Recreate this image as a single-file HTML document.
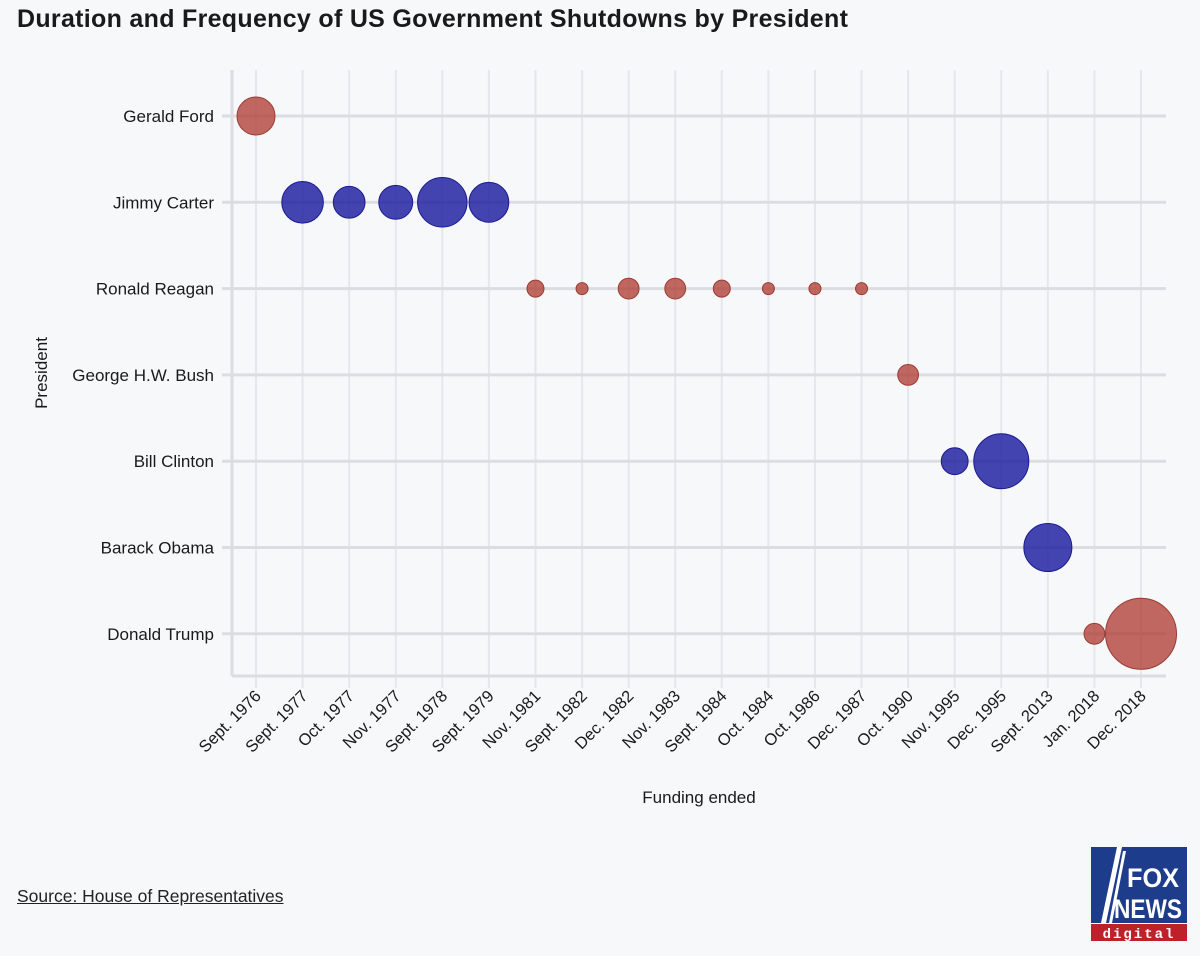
<!DOCTYPE html>
<html><head><meta charset="utf-8"><style>
body{margin:0;background:#f7f8fa;font-family:"Liberation Sans",sans-serif;}
#wrap{position:relative;width:1200px;height:956px;overflow:hidden;background:#f7f8fa;}
h1{position:absolute;left:17px;top:5px;margin:0;font-size:25px;font-weight:bold;color:#1a1a1a;letter-spacing:0.3px;}
#src{position:absolute;left:17px;top:886px;font-size:17.5px;color:#222;text-decoration:underline;}
</style></head><body>
<div id="wrap">
<h1>Duration and Frequency of US Government Shutdowns by President</h1>
<svg id="chart" width="1200" height="956" style="position:absolute;left:0;top:0"></svg>
<a id="src">Source: House of Representatives</a>
<svg width="96" height="94" style="position:absolute;left:1091px;top:847px">
<rect x="0" y="0" width="96" height="76" fill="#1e3c8c"/>
<path d="M10 76 L26 0 L31 0 L15 76Z M18 76 L32 4 L35 4 L21 76Z" fill="#fff"/>
<text x="62" y="40" text-anchor="middle" font-family="Liberation Sans" font-weight="bold" font-size="27" fill="#fff" textLength="52" lengthAdjust="spacingAndGlyphs">FOX</text>
<text x="57" y="71" text-anchor="middle" font-family="Liberation Sans" font-weight="bold" font-size="27" fill="#fff" textLength="68" lengthAdjust="spacingAndGlyphs">NEWS</text>
<rect x="0" y="77" width="96" height="17" fill="#c0202a"/>
<text x="48" y="91" text-anchor="middle" font-family="Liberation Mono" font-weight="bold" font-size="14" fill="#fff" letter-spacing="2">digital</text>
</svg>
</div>
<script>
const presidents=["Gerald Ford","Jimmy Carter","Ronald Reagan","George H.W. Bush","Bill Clinton","Barack Obama","Donald Trump"];
const dates=["Sept. 1976","Sept. 1977","Oct. 1977","Nov. 1977","Sept. 1978","Sept. 1979","Nov. 1981","Sept. 1982","Dec. 1982","Nov. 1983","Sept. 1984","Oct. 1984","Oct. 1986","Dec. 1987","Oct. 1990","Nov. 1995","Dec. 1995","Sept. 2013","Jan. 2018","Dec. 2018"];
const presOf=[0,1,1,1,1,1,2,2,2,2,2,2,2,2,3,4,4,5,6,6];
const days=[10,12,7,8,17,11,2,1,3,3,2,1,1,1,3,5,21,16,3,35];
const party=["R","D","D","D","D","D","R","R","R","R","R","R","R","R","R","D","D","D","R","R"];
const svg=document.getElementById('chart');const NS="http://www.w3.org/2000/svg";
const x0=256,dx=46.58,y0=116,dy=86.3,left=232,right=1166,bottom=676;
const xs=i=>x0+i*dx, ys=i=>y0+i*dy, rs=d=>6*Math.sqrt(d);
function mk(t,a){const e=document.createElementNS(NS,t);for(const k in a)e.setAttribute(k,a[k]);svg.appendChild(e);return e;}
dates.forEach((d,i)=>{const l=mk('line',{x1:xs(i),x2:xs(i),y1:70,y2:688,stroke:'#e6e7ea','stroke-width':2});

const t=mk('text',{x:0,y:0,transform:`translate(${xs(i)+6},${697}) rotate(-45)`,'text-anchor':'end','font-size':16.5,fill:'#1a1a1a','font-family':'Liberation Sans'});t.textContent=d;
});
presidents.forEach((p,i)=>{const l=mk('line',{x1:222,x2:right,y1:ys(i),y2:ys(i),stroke:'#dcdde0','stroke-width':3});

const t=mk('text',{x:214,y:ys(i)+6,'text-anchor':'end','font-size':17,fill:'#1a1a1a','font-family':'Liberation Sans'});t.textContent=p;
});
const ya=mk('line',{x1:left,x2:left,y1:70,y2:bottom,stroke:'#dcdde0','stroke-width':3});
const xa=mk('line',{x1:left,x2:right,y1:bottom,y2:bottom,stroke:'#dcdde0','stroke-width':3});
days.forEach((d,i)=>{const c=mk('circle',{cx:xs(i),cy:ys(presOf[i]),r:rs(d),fill:party[i]=="R"?'rgba(175,62,52,0.78)':'rgba(28,28,160,0.82)',stroke:party[i]=="R"?'#9a3b33':'#1a1a90','stroke-width':1});
});
const xt=mk('text',{x:699,y:803,'text-anchor':'middle','font-size':17,fill:'#1a1a1a'});xt.textContent='Funding ended';

const yt=mk('text',{x:0,y:0,transform:'translate(47,373) rotate(-90)','text-anchor':'middle','font-size':17,fill:'#1a1a1a'});yt.textContent='President';

</script>
</body></html>
